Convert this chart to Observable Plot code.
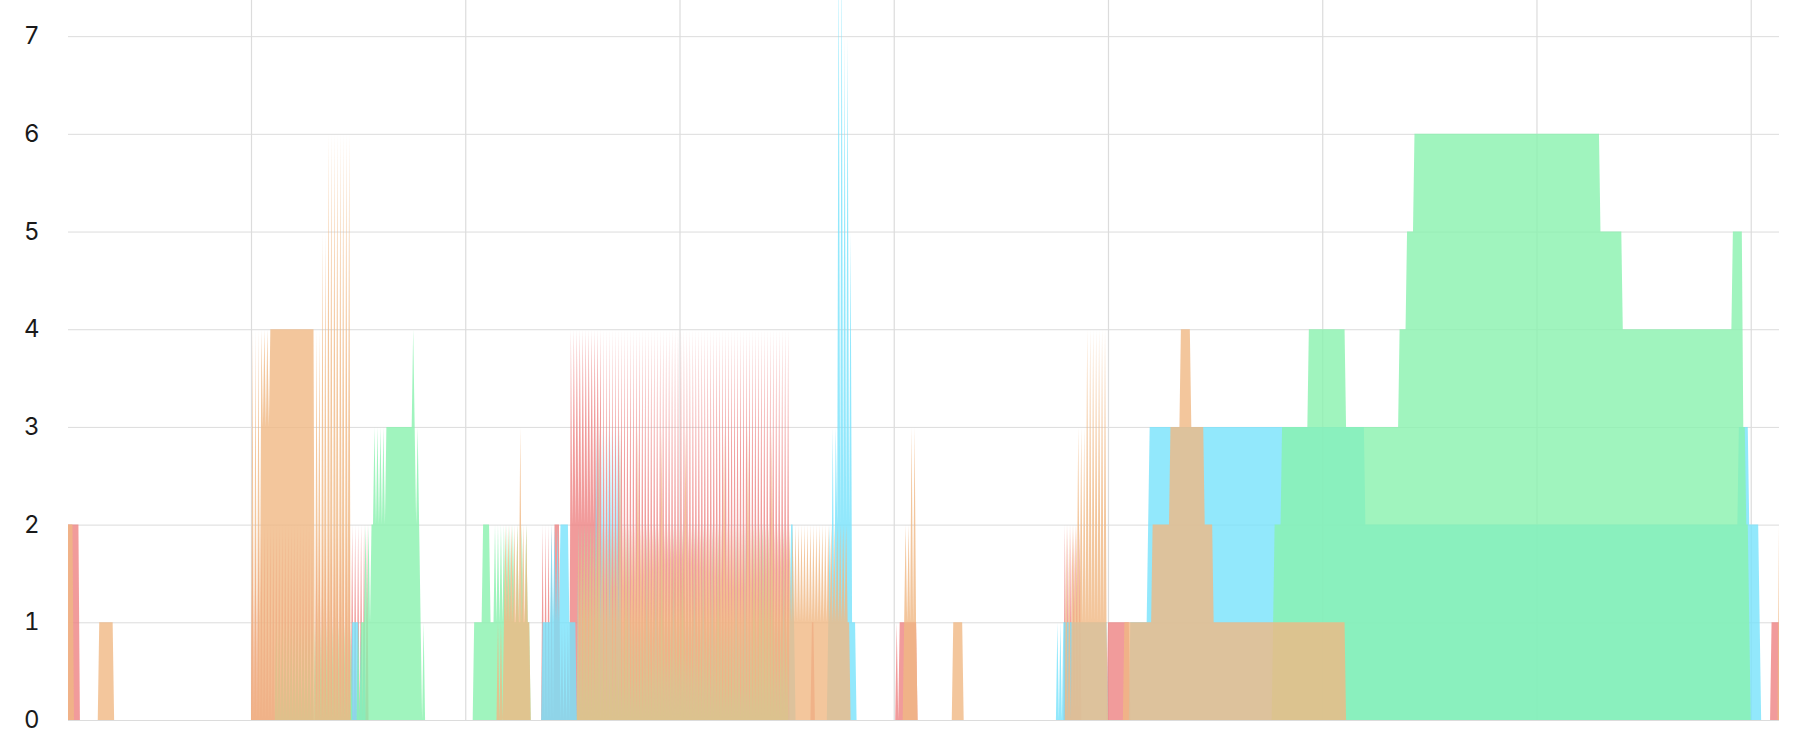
<!DOCTYPE html>
<html><head><meta charset="utf-8">
<script src="https://cdn.jsdelivr.net/npm/d3@7"></script>
<script src="https://cdn.jsdelivr.net/npm/@observablehq/plot@0.6"></script>
<style>
html,body{margin:0;padding:0;background:#fff;}
#chart svg{display:block;}
</style>
</head><body><div id="chart"></div>
<script>
// series (draw order) and colours
const seriesNames = ["Series 1", "Series 2", "Series 3", "Series 4"];
const seriesColors = ["#ee8282", "#77e2fb", "#88f1ae", "#f0b883"];
// y ticks and day gridlines (hours from first midnight)
const yTicks = [0, 1, 2, 3, 4, 5, 6, 7];
const dayTicks = [0, 24, 48, 72, 96, 120, 144, 168];
// time base: 10-minute samples starting 20.5 h before the first midnight
const startHour = -20.5;
const stepHours = 1 / 6;
const sampleCount = 1151;

// values per sample; "@k" = jump to sample k, "v*n" = n samples of v, digits = one sample each; unspecified = 0
const red = `@0 2*8
@124 2020202020 2020202020 2020202020 2020202020 20 020202020202020202020202
@191 20202020202
@319 2020202022220101010
@338 4242424242 4242424242 4040404040 4040404040 4040404040 4040404040 4040404040
     4040404040 4040404040 4040404040 4040404040 4040404040 4040404040 4040404040 4040404
@500 11
@557 10111111111111
@670 20202020202
@699 1*15
@1145 1*6`;

const blue = `@191 111110101
@319 111111 212121222222 11111
@342 020202020202 0303130303130303130
     1010201010 1010102010 1020101010 1010201010 1010101020 1010201010
     2010101010 1010102010 1020101010 1010201010 1010101020 10
@485 12210
@511 1213132828272725111
@665 1010 1*30
@714 1*12 2 3*145 2*251 3*7 2*7 1`;

const green = `@140 1010101010 1010101010 1010101010 1010101010 1010101010 1
@195 10111 21212232323232 3*18 4323210 1
@273 1*6 2*5 111 212121212121211211211211
@342 0101020102 0102020101 0101010101 0102010101 0101010101 0101010201 0101010101
     0201010101 0101010101 0101020101 0101010101 0101010102 0102020202 0201010101 010
@810 1 2*5 3*18 4*25 3*36 4*5 5*5 6*125 5*15 4*74 5*7 332210`;

const orange = `@0 2222
@21 1*10
@124 404041434343 4*30 041405150616061606160616
@289 1010121212121213121211
@343 2121212121 2121312121 2121212131 2121212121 3121212121 2121213121 2121212121
     2131212121 2121212121 2121212131 2121212121 2121312121 2121212121 3121212121
     2121212121 2121212121 2121212121 2121212121 211
@562 121213131
@595 1*7
@671 2020212131313141414141414141
@710 1*19 2*12 3*7 4*7 3*9 2*6 1*89
@1150 2`;

function decode(spec) {
  const out = new Array(sampleCount).fill(0);
  let k = 0;
  for (const tok of spec.trim().split(/\s+/)) {
    if (tok[0] === "@") { k = +tok.slice(1); continue; }
    const parts = tok.split("*");
    if (parts.length === 2) {
      for (let j = 0; j < +parts[1]; j++) out[k++] = +parts[0];
    } else {
      for (const ch of tok) out[k++] = +ch;
    }
  }
  return out;
}

const specs = [red, blue, green, orange];
const rows = [];
seriesNames.forEach((name, s) => {
  const vals = decode(specs[s]);
  vals.forEach((v, i) => rows.push({t: startHour + i * stepHours, v, series: name}));
});

const chart = Plot.plot({
  width: 1796,
  height: 740,
  marginLeft: 68,
  marginRight: 17,
  marginTop: 0,
  marginBottom: 20,
  style: {fontFamily: "Inter, 'Noto Sans', sans-serif", fontSize: "24px", color: "#1a1a1a", background: "#fff"},
  x: {domain: [startHour, startHour + (sampleCount - 1) * stepHours], axis: null},
  y: {domain: [0, 7.37]},
  color: {type: "ordinal", domain: seriesNames, range: seriesColors},
  marks: [
    Plot.gridX(dayTicks, {stroke: "#dcdcdc", strokeOpacity: 1, strokeWidth: 1.2}),
    Plot.gridY(yTicks, {stroke: "#dcdcdc", strokeOpacity: 1}),
    Plot.areaY(rows, {x: "t", y1: 0, y2: "v", z: "series", fill: "series", fillOpacity: 0.8, curve: "linear", clip: true}),
    Plot.axisY(yTicks, {tickSize: 0, tickPadding: 29, fontSize: 24, tickFormat: d => String(d), label: null})
  ]
});
document.getElementById("chart").appendChild(chart);
</script>
</body></html>
